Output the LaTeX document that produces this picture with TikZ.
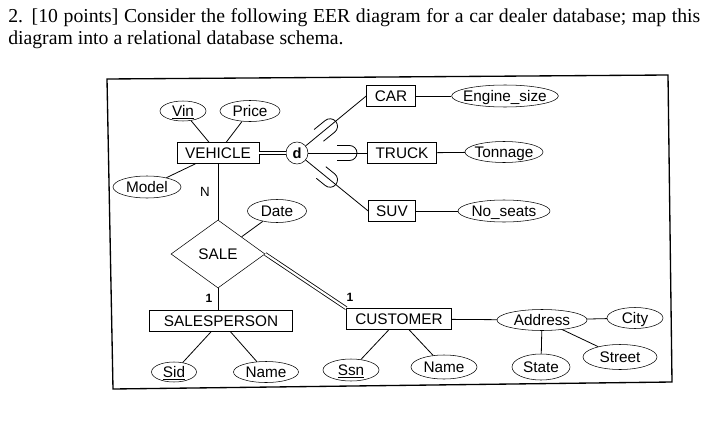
\documentclass[tikz,border=0pt]{standalone}
\usepackage{fontspec}
\setmainfont{Liberation Serif}
\newfontfamily\erfont{Liberation Sans}
\usetikzlibrary{shapes.geometric}

\tikzset{
  erlabel/.style={font=\erfont\fontsize{11.5}{13}\selectfont},
  entity/.style={erlabel, draw, rectangle, inner sep=0pt, minimum height=15.75pt,
    text height=8pt, text depth=0pt},
  attr/.style={erlabel, draw, ellipse, inner sep=0pt, text height=8pt, text depth=0pt,
    execute at begin node={\hbox to 0pt\bgroup\hss},
    execute at end node={\hss\egroup}},
  rel/.style={erlabel, draw, diamond, inner sep=0pt},
  disj/.style={draw, circle, inner sep=0pt, minimum size=16.5pt,
    font=\erfont\bfseries\fontsize{11}{12}\selectfont},
  card/.style={font=\erfont\fontsize{10}{11}\selectfont},
  link/.style={line width=0.6pt},
  total/.style={line width=0.6pt, double, double distance=1.6pt},
  title/.style={anchor=base west, font=\fontsize{14.8}{17}\selectfont, inner sep=0pt}
}

\begin{document}
\begin{tikzpicture}[x=0.75pt, y=-0.75pt]
\useasboundingbox (0,0) rectangle (721,421);

% question text (first line is justified)
\node[title] (q1) at (8,22) {\hbox to 519pt{2. [10 points] Consider the following EER diagram for a car dealer database; map this}};
\node[title] (q2) at (8,44) {diagram into a relational database schema.};

% frame of the figure
\draw[line width=1pt] (107,79) -- (668,75) -- (672,382) -- (113,389) -- cycle;

% vehicle and its subclasses
\node[entity, minimum width=61.5pt] (vehicle) at (218,153) {VEHICLE};
\node[attr, minimum width=34.5pt, minimum height=15pt] (vin) at (183,111) {\underline{Vin}};
\node[attr, minimum width=45pt, minimum height=15.75pt] (price) at (250,111) {Price};
\node[attr, minimum width=51pt, minimum height=16.5pt] (model) at (147,187) {Model};
\node[disj] (d) at (297,153) {d};

\node[entity, minimum width=36.75pt] (car) at (391,96) {CAR};
\node[entity, minimum width=51.75pt] (truck) at (402,153) {TRUCK};
\node[entity, minimum width=35.25pt] (suv) at (392,211) {SUV};
\node[attr, minimum width=80pt, minimum height=16.5pt] (engine) at (505,96) {Engine\_size};
\node[attr, minimum width=58.5pt, minimum height=15.75pt] (tonnage) at (504,152) {Tonnage};
\node[attr, minimum width=69pt, minimum height=16.5pt] (seats) at (504,211) {No\_seats};

% the sale relationship
\node[rel, minimum width=70.5pt, minimum height=51pt] (sale) at (218,254) {SALE};
\node[attr, minimum width=44.25pt, minimum height=17.25pt] (date) at (277,211) {Date};

% salesperson
\node[entity, minimum width=107.25pt] (salesperson) at (221,321) {SALESPERSON};
\node[attr, minimum width=33.75pt, minimum height=15pt] (sid) at (174,372) {\underline{Sid}};
\node[attr, minimum width=48.75pt, minimum height=15.75pt] (spname) at (266,372) {Name};

% customer
\node[entity, minimum width=78.75pt] (customer) at (399,319) {CUSTOMER};
\node[attr, minimum width=42pt, minimum height=16.5pt] (ssn) at (351,370) {\underline{Ssn}};
\node[attr, minimum width=49.5pt, minimum height=18pt] (cname) at (444,367) {Name};
\node[attr, minimum width=67.5pt, minimum height=15.75pt] (address) at (542,320) {Address};
\node[attr, minimum width=42pt, minimum height=15.75pt] (city) at (635,318) {City};
\node[attr, minimum width=43.5pt, minimum height=19.5pt] (state) at (541,367) {State};
\node[attr, minimum width=55.5pt, minimum height=18.75pt] (street) at (620,357) {Street};

% cardinalities
\node[card] (cardn) at (205,192) {N};
\node[card, font=\erfont\bfseries\fontsize{9}{10}\selectfont] (card1) at (209,298) {1};
\node[card, font=\erfont\bfseries\fontsize{9}{10}\selectfont] (card2) at (350,297) {1};

% connectors
\draw[link] (vin) -- (vehicle);
\draw[link] (price) -- (vehicle);
\draw[link] (model) -- (vehicle);
\draw[total] (vehicle) -- (d);
\draw[link] (d) -- (car.west);
\draw[link] (d) -- (truck);
\draw[link] (d) -- (suv.west);
\draw[link] (car) -- (engine);
\draw[link] (truck) -- (tonnage);
\draw[link] (suv) -- (seats);
\draw[link] (vehicle.south) -- (sale.north);
\draw[link] (date) -- (sale);
\draw[link] (sale.south) -- (sale.south |- salesperson.north);
\draw[total] (sale.east) -- (customer.north west);
\draw[link] (salesperson) -- (sid);
\draw[link] (salesperson) -- (spname);
\draw[link] (customer) -- (ssn);
\draw[link] (customer) -- (cname);
\draw[link] (customer) -- (address);
\draw[link] (address) -- (city);
\draw[link] (address) -- (state);
\draw[link] (address) -- (street);

% subset marks on the specialization lines
\foreach \ang/\from/\to in {39/28/50, 0/40/60, -39/31/50}
  \draw[link, shift={(d)}, rotate=\ang]
    (\from,7.5) -- (\to-7.5,7.5) arc[start angle=90, end angle=-90, radius=7.5] -- (\from,-7.5);
\end{tikzpicture}
\end{document}
